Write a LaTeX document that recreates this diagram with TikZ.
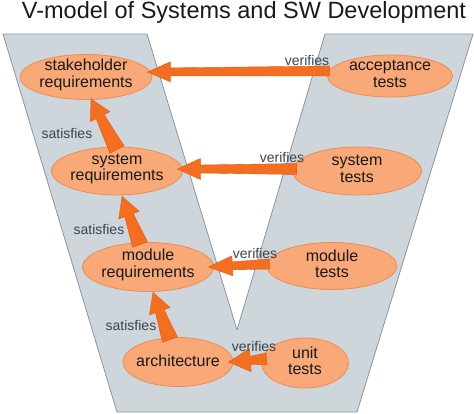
\documentclass[tikz,border=0pt]{standalone}
\usepackage{fontspec}
\setmainfont{Liberation Sans}
\usetikzlibrary{shapes.geometric,calc}
\definecolor{vgray}{RGB}{206,214,220}
\definecolor{vedge}{RGB}{140,150,158}
\definecolor{ellfill}{RGB}{249,168,120}
\definecolor{elledge}{RGB}{236,140,88}
\definecolor{arrfill}{RGB}{243,110,32}
\definecolor{arredge}{RGB}{222,92,20}
\definecolor{lblcol}{RGB}{58,68,80}
\definecolor{txtcol}{RGB}{25,25,25}
\tikzset{
  ell/.style={ellipse, fill=ellfill, draw=elledge, line width=0.8pt, inner sep=0pt},
  etext/.style={align=center, text=txtcol, font=\fontsize{16}{16.5}\selectfont, inner sep=0pt},
  lbl/.style={text=lblcol, font=\fontsize{14}{16}\selectfont, inner sep=0pt},
  arrfillstyle/.style={fill=arrfill, draw=arredge, line width=0.4pt, line join=round}
}
\newcommand{\fatarrow}[6]{%
  \coordinate (fa-n) at ($(#2)!#6!(#1)$);
  \filldraw[arrfillstyle] ($(#1)!#3!90:(#2)$) -- ($(fa-n)!#4!90:(#2)$) -- ($(fa-n)!#5!90:(#2)$) -- (#2)
    -- ($(fa-n)!#5!-90:(#2)$) -- ($(fa-n)!#4!-90:(#2)$) -- ($(#1)!#3!-90:(#2)$) -- cycle;}
\begin{document}
\begin{tikzpicture}[x=1pt,y=-1pt]
\useasboundingbox (0,0) rectangle (474,413);
% title
\node[anchor=base, text=txtcol, font=\fontsize{23.5}{28}\selectfont, inner sep=0pt] (title) at (244,18) {V-model of Systems and SW Development};
% V shape
\filldraw[fill=vgray, draw=vedge, line width=0.8pt, line join=round]
  (3,34) -- (147,34) -- (237,330) -- (325,34) -- (473,34) -- (357,412) -- (117,412) -- cycle;
% ellipses
\node[ell, minimum width=132pt, minimum height=45pt] (stake) at (86,77) {};
\node[etext] (stake-t) at (86,75) {stakeholder\\requirements};
\node[ell, minimum width=125pt, minimum height=42pt] (acc) at (390,76) {};
\node[etext] (acc-t) at (390,74) {acceptance\\tests};
\node[ell, minimum width=131pt, minimum height=48pt] (sysreq) at (117,171) {};
\node[etext] (sysreq-t) at (117,169) {system\\requirements};
\node[ell, minimum width=129pt, minimum height=48pt] (systest) at (357,171) {};
\node[etext] (systest-t) at (357,169) {system\\tests};
\node[ell, minimum width=131pt, minimum height=49pt] (modreq) at (148,267) {};
\node[etext] (modreq-t) at (148,265) {module\\requirements};
\node[ell, minimum width=130pt, minimum height=47pt] (modtest) at (332,266) {};
\node[etext] (modtest-t) at (332,264) {module\\tests};
\node[ell, minimum width=110pt, minimum height=49pt] (arch) at (178,362) {};
\node[etext] (arch-t) at (178,361) {architecture};
\node[ell, minimum width=87pt, minimum height=50pt] (unit) at (305,363) {};
\node[etext] (unit-t) at (305,361) {unit\\tests};
% arrow end points
\coordinate (v1b) at ($(acc.west)+(2.5,-5)$);
\coordinate (v1t) at ($(stake.east)+(-5,-5)$);
\coordinate (v2b) at ($(systest.west)+(4.5,-2)$);
\coordinate (v2t) at ($(sysreq.east)+(-5.5,-2)$);
\coordinate (v3b) at ($(modtest.west)+(3,-2)$);
\coordinate (v3t) at ($(modreq.east)+(-5.5,0)$);
\coordinate (v4b) at ($(unit.west)+(5.5,-4)$);
\coordinate (v4t) at ($(arch.east)+(-5,0)$);
\coordinate (s1b) at ($(sysreq.north)+(0,3)$);
\coordinate (s1t) at ($(stake.south)+(5,-1)$);
\coordinate (s2b) at ($(modreq.north)+(-8,2.5)$);
\coordinate (s2t) at ($(sysreq.south)+(5,1)$);
\coordinate (s3b) at ($(arch.north)+(-8,2.5)$);
\coordinate (s3t) at ($(modreq.south)+(5,0.5)$);
% verifies arrows
\fatarrow{v1b}{v1t}{5pt}{4pt}{10pt}{23pt}
\fatarrow{v2b}{v2t}{5.5pt}{4pt}{10.5pt}{23pt}
\fatarrow{v3b}{v3t}{5pt}{4pt}{10pt}{24pt}
\fatarrow{v4b}{v4t}{6pt}{4pt}{11.5pt}{22pt}
% satisfies arrows
\fatarrow{s1b}{s1t}{8pt}{4.5pt}{11pt}{20pt}
\fatarrow{s2b}{s2t}{8pt}{4.5pt}{11pt}{20pt}
\fatarrow{s3b}{s3t}{8pt}{4.5pt}{11pt}{20pt}
% labels
\node[lbl] (lv1) at (307,60) {verifies};
\node[lbl] (lv2) at (282,157) {verifies};
\node[lbl] (lv3) at (255,253) {verifies};
\node[lbl] (lv4) at (254,346) {verifies};
\node[lbl] (ls1) at (67,133) {satisfies};
\node[lbl] (ls2) at (99,229) {satisfies};
\node[lbl] (ls3) at (131,325) {satisfies};
\end{tikzpicture}
\end{document}
